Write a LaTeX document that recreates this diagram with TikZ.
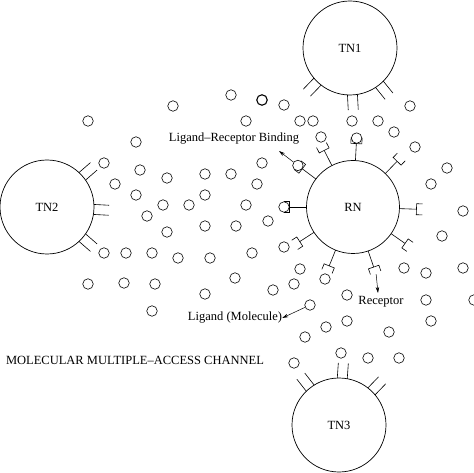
\documentclass[tikz,border=0pt]{standalone}
\usepackage{fontspec}
\setmainfont{Liberation Serif}
\usetikzlibrary{arrows.meta,calc}
\begin{document}
\begin{tikzpicture}[x=1pt,y=1pt,
 lig/.style={circle,draw,minimum size=10.5pt,inner sep=0pt,line width=0.6pt},
 bignode/.style={circle,draw,minimum size=94pt,inner sep=0pt,line width=0.7pt,font=\fontsize{12.5}{14}\selectfont},
 lbl/.style={inner sep=0pt,font=\fontsize{12.5}{14}\selectfont},
 arr/.style={-{Stealth[length=6pt,width=3.5pt]},line width=0.5pt},
 thinline/.style={line width=0.6pt}]
\useasboundingbox (0,0) rectangle (474,-473);

% transmitter and receiver nodes
\node[bignode] (TN1) at (350,-48) {TN1};
\node[bignode] (TN2) at (47,-207) {TN2};
\node[bignode] (TN3) at (339,-425) {TN3};
\node[bignode,minimum size=93pt] (RN) at (353,-207) {RN};

% emitter pairs on the transmitters
\foreach \n/\a in {TN1/226,TN1/273,TN1/309,TN2/41,TN2/-3,TN2/-41,TN3/128,TN3/86,TN3/46}{
  \begin{scope}[shift={(\n.center)},rotate=\a]
    \draw[thinline] (46.6,5) -- (62,5);
    \draw[thinline] (46.6,-5) -- (62,-5);
  \end{scope}
}

% receptors on the receiver
\foreach \a in {117,46,-2,213,-35,248,289,87,143,180}{
  \begin{scope}[shift={(RN.center)},rotate=\a]
    \draw[thinline] (46.5,0) -- (63.5,0);
    \draw[thinline] (69.5,5.5) -- (63.5,5.5) -- (63.5,-5.5) -- (69.5,-5.5);
    \coordinate (rc\a) at (71,0);
  \end{scope}
}
% bound ligands
\foreach \a in {87,143,180}{
  \node[lig] (b\a) at ($(RN.center)+(\a:69)$) {};
}

% free ligands
\foreach \x/\y [count=\i] in {88/121, 136/142, 104/163, 140/170, 115/184, 136/195, 147/216,
  173/106, 231/95, 284/105, 246/121, 300/121, 313/121, 262/163, 167/178, 205/174, 231/174,
  257/184, 205/195, 163/205, 189/205, 246/205, 167/232, 205/226, 236/226, 268/221,
  410/106, 352/121, 378/121, 394/132, 321/137, 415/147, 447/168, 431/184, 463/211,
  442/236, 404/268, 426/273, 463/268, 325/279, 347/295, 426/300, 474/300, 431/321,
  326/327, 347/321, 389/332, 341/353, 368/358, 399/358, 104/253, 126/253, 152/253,
  88/284, 124/283, 155/284, 152/311, 178/258, 210/258, 252/253, 284/247, 235/278,
  205/294, 273/290, 294/284, 300/269, 305/337, 294/363}
  \node[lig] (l\i) at (\x,-\y) {};
\node[lig,line width=1.1pt] (ldark) at (262,-100) {};
\node[lig] (lmol) at (310,-305) {};

% labels
\node[lbl] (lrb) at (234,-139) {Ligand--Receptor Binding};
\node[lbl] (ligt) at (235,-318) {Ligand (Molecule)};
\node[lbl] (rect) at (381,-302) {Receptor};
\node[lbl] (mmac) at (135,-360) {MOLECULAR MULTIPLE--ACCESS CHANNEL};

% arrows
\coordinate (lrbtip) at (279,-151);
\coordinate (rectip) at (378,-293);
\draw[arr] (b143) -- (lrbtip);
\draw[arr] (lmol) -- (ligt.east);
\draw[arr] (rc289) -- (rectip);
\end{tikzpicture}
\end{document}
